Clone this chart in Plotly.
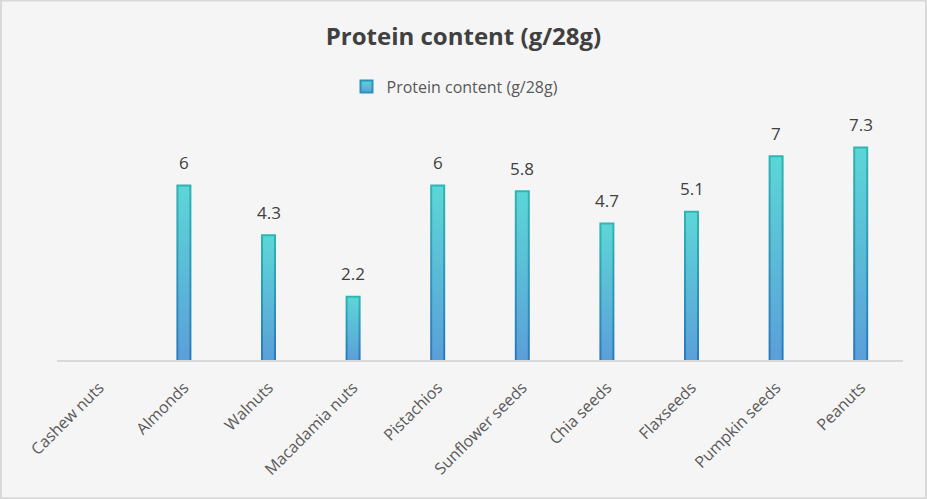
import plotly.graph_objects as go

categories = ["Cashew nuts", "Almonds", "Walnuts", "Macadamia nuts", "Pistachios",
              "Sunflower seeds", "Chia seeds", "Flaxseeds", "Pumpkin seeds", "Peanuts"]
protein = [None, 6, 4.3, 2.2, 6, 5.8, 4.7, 5.1, 7, 7.3]
series_name = "Protein content (g/28g)"

W, H = 927, 499
ML, MR, MB = 57, 24, 139
YMAX = 8.0
plot_w = W - ML - MR
px_per_unit = 29.2
plot_h = YMAX * px_per_unit
MT = H - MB - plot_h

cat_px = plot_w / len(categories)
hw_out = 7.5 / cat_px
hw_in = 5.5 / cat_px
dy_in = 2.0 / px_per_unit

outline_scale = [[0, "#2a7abf"], [1, "#30b4b4"]]
fill_scale = [[0, "#5b9fd8"], [1, "#5cd6d6"]]

fig = go.Figure()
for i, v in enumerate(protein):
    if v is None:
        continue
    fig.add_trace(go.Scatter(
        x=[i - hw_out, i + hw_out, i + hw_out, i - hw_out, i - hw_out],
        y=[0, 0, v, v, 0], mode="lines", fill="toself",
        line=dict(width=0, color="#2e8fc0"),
        fillgradient=dict(type="vertical", colorscale=outline_scale),
        name=series_name, legendgroup="p", showlegend=False, hoverinfo="skip"))
    fig.add_trace(go.Scatter(
        x=[i - hw_in, i + hw_in, i + hw_in, i - hw_in, i - hw_in],
        y=[0, 0, v - dy_in, v - dy_in, 0], mode="lines", fill="toself",
        line=dict(width=0, color="#2e8fc0"),
        fillgradient=dict(type="vertical", colorscale=fill_scale),
        name=series_name, legendgroup="p", showlegend=False,
        hovertemplate="%{text}<extra></extra>", text=[f"{categories[i]}: {v}"] * 5))
    fig.add_annotation(x=i, y=v, text=str(v), showarrow=False, yanchor="middle",
                       yshift=22, font=dict(size=17, color="#404040"))

# legend-only entry with a gradient square swatch
fig.add_trace(go.Scatter(
    x=[None], y=[None], mode="markers", name=series_name, legendgroup="p",
    marker=dict(symbol="square", size=11, color="#5cd6d6",
                gradient=dict(type="vertical", color="#5b9fd8"),
                line=dict(color="#2e8fc0", width=1.5)),
    hoverinfo="skip"))

def px2x(p):
    return (p - ML) / plot_w

def px2y(p):
    return (H - MB - p) / plot_h

fig.add_shape(type="rect", xref="paper", yref="paper",
              x0=px2x(1), x1=px2x(W - 1), y0=px2y(H - 1), y1=px2y(1),
              line=dict(color="#d9d9d9", width=2), layer="below")

fig.update_layout(
    width=W, height=H,
    margin=dict(l=ML, r=MR, t=MT, b=MB),
    paper_bgcolor="#f5f5f5", plot_bgcolor="#f5f5f5",
    font=dict(family="Open Sans", color="#595959"),
    title=dict(text="<b>Protein content (g/28g)</b>", x=0.5, xanchor="center",
               y=1 - 37 / H, yanchor="middle", xref="container", yref="container",
               font=dict(size=24, color="#404040", family="Open Sans")),
    showlegend=True,
    legend=dict(orientation="h", x=px2x(455), xanchor="center", y=px2y(70), yanchor="top",
                font=dict(size=16, color="#595959"), bgcolor="rgba(0,0,0,0)",
                itemsizing="constant", itemwidth=30),
    xaxis=dict(range=[-0.5, len(categories) - 0.5], tickmode="array",
               tickvals=list(range(len(categories))), ticktext=categories,
               tickangle=-45, showgrid=False, zeroline=False, showline=True,
               linecolor="#d9d9d9", linewidth=2, ticks="", fixedrange=True,
               ticklabelstandoff=10,
               tickfont=dict(size=16, color="#595959")),
    yaxis=dict(range=[0, YMAX], visible=False, fixedrange=True),
)

fig.write_html("out.html")
